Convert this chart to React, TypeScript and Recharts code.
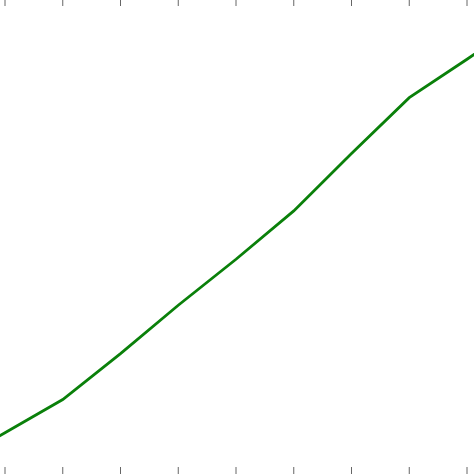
import { LineChart, Line, XAxis, YAxis } from 'recharts';

// tick positions along x (the visible window shows ticks 0..8)
const xSteps = [-1, 0, 1, 2, 3, 4, 5, 6, 7, 8, 9];
const series = [1.7, 8.7, 15.7, 25.4, 35.6, 45.3, 55.5, 67.6, 79.4, 87.5, 95.8];
const xTicks = [0, 1, 2, 3, 4, 5, 6, 7, 8];

const data = xSteps.map((x, i) => ({ x, value: series[i] }));

const noLabel = () => <g />;

export default function App() {
  return (
    <div style={{ position: 'absolute', top: 0, left: 0, background: '#fff' }}>
      <LineChart width={474} height={474} data={data} margin={{ top: 0, right: 0, bottom: 0, left: 0 }}>
        <XAxis
          xAxisId="bottom"
          dataKey="x"
          type="number"
          orientation="bottom"
          domain={[-0.0866, 8.121]}
          ticks={xTicks}
          interval={0}
          allowDataOverflow
          mirror
          height={1}
          tick={noLabel}
          tickSize={7}
          axisLine={false}
          tickLine={{ stroke: '#666', strokeWidth: 1 }}
        />
        <XAxis
          xAxisId="top"
          dataKey="x"
          type="number"
          orientation="top"
          domain={[-0.0866, 8.121]}
          ticks={xTicks}
          interval={0}
          allowDataOverflow
          mirror
          height={1}
          tick={noLabel}
          tickSize={6}
          axisLine={false}
          tickLine={{ stroke: '#666', strokeWidth: 1 }}
        />
        <YAxis hide width={0} domain={[0, 100]} allowDataOverflow />
        <Line
          xAxisId="bottom"
          type="linear"
          dataKey="value"
          stroke="#0a800a"
          strokeWidth={2.8}
          dot={false}
          isAnimationActive={false}
        />
      </LineChart>
    </div>
  );
}
